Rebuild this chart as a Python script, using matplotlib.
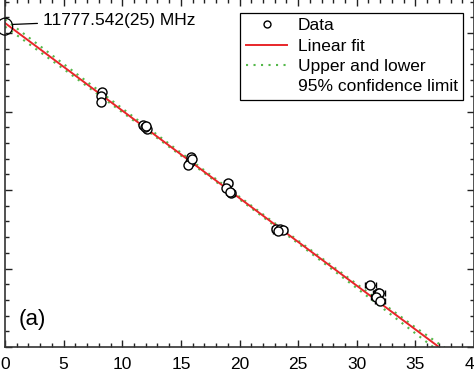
import numpy as np
import matplotlib
matplotlib.use("Agg")
import matplotlib.pyplot as plt
from matplotlib.patches import Ellipse
from matplotlib.lines import Line2D
from matplotlib.ticker import FixedLocator, MultipleLocator

plt.rcParams["font.family"] = ["Liberation Sans", "DejaVu Sans"]

# measured points (x, frequency in MHz) with horizontal error bars
data_x = [8.3, 8.2, 8.2,
          11.75, 12.1, 11.93, 12.0,
          15.9, 15.76, 15.61, 15.93,
          19.02, 18.88, 19.31, 19.17,
          23.14, 23.42, 23.68, 23.25,
          31.15, 31.8, 31.94, 31.66, 32.0]
data_y = [11777.105, 11777.074, 11777.038,
          11776.892, 11776.866, 11776.879, 11776.886,
          11776.686, 11776.658, 11776.637, 11776.675,
          11776.524, 11776.489, 11776.457, 11776.467,
          11776.228, 11776.230, 11776.223, 11776.217,
          11775.873, 11775.820, 11775.824, 11775.798, 11775.771]
data_xerr = [0.13, 0.13, 0.13,
             0.2, 0.2, 0.2, 0.2,
             0.25, 0.25, 0.25, 0.25,
             0.3, 0.3, 0.3, 0.3,
             0.36, 0.36, 0.36, 0.36,
             0.45, 0.45, 0.45, 0.45, 0.45]

# linear fit and its 95% confidence limits
fit_x = [0, 40]
fit_y = [11777.542, 11775.311]
band_x = [0, 5, 10, 15, 20, 25, 30, 35, 40]
band_upper = [11777.565, 11777.281, 11776.998, 11776.716, 11776.435,
              11776.156, 11775.879, 11775.603, 11775.344]
band_lower = [11777.519, 11777.249, 11776.974, 11776.698, 11776.419,
              11776.138, 11775.853, 11775.565, 11775.278]

intercept_label = "11777.542(25) MHz"

fig = plt.figure(figsize=(4.74, 3.72), dpi=100)
ax = fig.add_axes([5 / 474, 25 / 372, 469 / 474, 348 / 372])

green = "#55b84a"
ax.plot(band_x, band_upper, color=green, lw=1.5, ls=(0, (1, 2.6)), zorder=2)
ax.plot(band_x, band_lower, color=green, lw=1.5, ls=(0, (1, 2.6)), zorder=2)
ax.plot(fit_x, fit_y, color="#e8262a", lw=1.4, zorder=2.5)
ax.errorbar(data_x, data_y, xerr=data_xerr, fmt="o", ms=6.5, mfc="white",
            mec="black", mew=1.0, ecolor="black", elinewidth=0.9,
            capsize=2, capthick=0.9, zorder=3)

y0 = 11775.478
ax.set_xlim(0, 40)
ax.set_ylim(y0, 11777.695)
ax.xaxis.set_major_locator(MultipleLocator(5))
ax.xaxis.set_minor_locator(MultipleLocator(1))
ax.yaxis.set_major_locator(FixedLocator(y0 + 0.5 * np.arange(5)))
ax.yaxis.set_minor_locator(FixedLocator(y0 + 0.1 * np.arange(23)))
ax.tick_params(which="both", direction="in", top=True, right=True,
               width=1.0, color="#222222", labelsize=12.5, pad=7)
ax.tick_params(which="major", length=5)
ax.tick_params(which="minor", length=3)
ax.tick_params(axis="y", labelleft=False)
for s in ax.spines.values():
    s.set_linewidth(1.2)
    s.set_color("#333333")

# circled intercept and its label
ax.add_patch(Ellipse((0, 11777.519), 1.31, 0.108, fill=False,
                     ec="black", lw=0.9, clip_on=False, zorder=4))
ax.annotate(intercept_label, xy=(0.66, 11777.533), xytext=(3.24, 11777.561),
            fontsize=12.5, va="center", ha="left",
            arrowprops=dict(arrowstyle="-", lw=0.9, color="black",
                            shrinkA=2, shrinkB=0))

ax.text(0.058, 0.078, "(a)", transform=ax.transAxes, fontsize=16,
        ha="center", va="center")

handles = [
    Line2D([], [], ls="none", marker="o", ms=5, mfc="white", mec="black"),
    Line2D([], [], color="#e8262a", lw=1.4),
    Line2D([], [], color=green, lw=1.5, ls=(0, (1, 2.6))),
    Line2D([], [], ls="none"),
]
labels = ["Data", "Linear fit", "Upper and lower", "95% confidence limit"]
leg = fig.legend(handles, labels, loc="upper right",
                 bbox_to_anchor=(463 / 474, 1 - 13 / 372), fontsize=12.5,
                 frameon=True, fancybox=False, framealpha=1,
                 edgecolor="black", borderaxespad=0, labelspacing=0.3,
                 handlelength=2.4, handletextpad=0.6, borderpad=0.3)
leg.get_frame().set_linewidth(0.9)

fig.savefig("out.png", dpi=100)
